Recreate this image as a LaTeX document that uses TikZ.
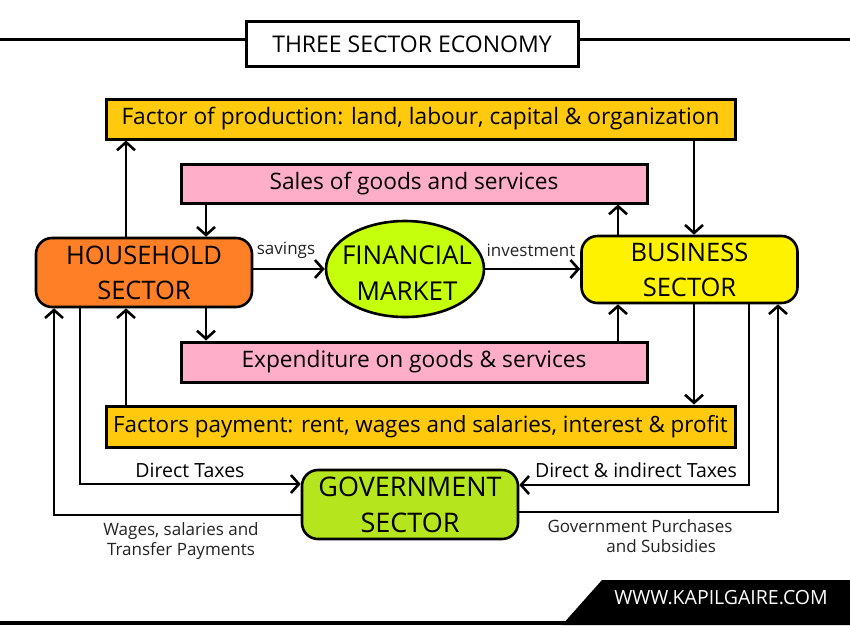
\documentclass[tikz,border=0pt]{standalone}
\usepackage{fontspec}
\setmainfont{Open Sans}
\usetikzlibrary{arrows.meta,shapes.geometric}
\definecolor{facfill}{HTML}{FFC90E}
\definecolor{pinkfill}{HTML}{FFAEC9}
\definecolor{housefill}{HTML}{FF7F27}
\definecolor{finfill}{HTML}{C5FF0C}
\definecolor{busfill}{HTML}{FFF200}
\definecolor{govfill}{HTML}{B5E61D}
\definecolor{lbl}{HTML}{222222}
\begin{document}
\begin{tikzpicture}[x=1pt,y=-1pt,
  line width=2.6pt,
  arr/.style={-{Straight Barb[length=8pt,width=18pt,line width=2.6pt]}},
  bar/.style={draw=black,line width=3pt,inner sep=0pt,align=center,font=\fontsize{22.7}{26}\selectfont},
  sector/.style={draw=black,line width=2.6pt,rounded corners=16pt,minimum width=216pt,inner sep=0pt,align=center,font=\fontsize{25.5}{35}\selectfont},
  lab/.style={text=lbl,inner sep=0pt,align=center,font=\fontsize{17}{20}\selectfont},
  tax/.style={text=black,inner sep=0pt,align=center,font=\fontsize{19.5}{22}\selectfont}
]
\useasboundingbox (0,0) rectangle (850,625);
% title
\draw[line width=3pt] (0,39) -- (850,39);
\node[bar,fill=white,minimum width=332pt,minimum height=45pt,font=\fontsize{23}{26}\selectfont] (title) at (412,44) {THREE SECTOR ECONOMY};
% boxes
\node[bar,fill=facfill,minimum width=629pt,minimum height=40pt] (factor) at (420.5,119) {Factor of production: land, labour, capital \& organization};
\node[bar,fill=pinkfill,minimum width=466pt,minimum height=39pt] (sales) at (414,183.5) {Sales of goods and services};
\node[bar,fill=pinkfill,minimum width=466pt,minimum height=40pt] (expend) at (414,362) {Expenditure on goods \& services};
\node[bar,fill=facfill,minimum width=629pt,minimum height=41pt,font=\fontsize{22.4}{26}\selectfont] (fpay) at (420.5,426.5) {Factors payment: rent, wages and salaries, interest \& profit};
\node[sector,fill=housefill,minimum height=69pt] (house) at (144,272.5) {HOUSEHOLD\\SECTOR};
\node[sector,fill=busfill,minimum height=67pt] (bus) at (689.5,269.5) {BUSINESS\\SECTOR};
\node[sector,fill=govfill,minimum height=69pt,font=\fontsize{27}{36}\selectfont] (gov) at (410,504.5) {GOVERNMENT\\SECTOR};
\node[ellipse,draw=black,line width=2.6pt,fill=finfill,minimum width=158pt,minimum height=96pt,inner sep=0pt] (fin) at (405,269) {};
\node[inner sep=0pt,align=center,font=\fontsize{26}{36}\selectfont] (fintext) at (407,273) {FINANCIAL\\MARKET};
% x / y guides
\coordinate (xa) at (126,0);
\coordinate (xb) at (206,0);
\coordinate (xc) at (618,0);
\coordinate (xd) at (694,0);
\coordinate (xe) at (80,0);
\coordinate (xf) at (54,0);
\coordinate (xg) at (749,0);
\coordinate (xh) at (778,0);
\coordinate (ya) at (0,484);
\coordinate (yb) at (0,515);
\coordinate (yc) at (0,485);
\coordinate (yd) at (0,512);
% arrows
\draw[arr] (house.north -| xa) -- (factor.south -| xa);
\draw[arr] (sales.south -| xb) -- (house.north -| xb);
\draw[arr] (factor.south -| xd) -- (bus.north -| xd);
\draw[arr] (bus.north -| xc) -- (sales.south -| xc);
\draw[arr] (house.south -| xb) -- (expend.north -| xb);
\draw[arr] (expend.north -| xc) -- (bus.south -| xc);
\draw[arr] (fpay.north -| xa) -- (house.south -| xa);
\draw[arr] (bus.south -| xd) -- (fpay.north -| xd);
\draw[arr] (house.south -| xe) |- (gov.west |- ya);
\draw[arr] (gov.west |- yb) -| (house.south -| xf);
\draw[arr] (bus.south -| xg) |- (gov.east |- yc);
\draw[arr] (gov.east |- yd) -| (bus.south -| xh);
\draw[arr] (house.east |- fin.west) -- (fin.west);
\draw[arr] (fin.east) -- (bus.west |- fin.east);
% labels
\node[lab] (lsav) at (286,250) {savings};
\node[lab] (linv) at (531,250) {investment};
\node[tax] (ldt) at (190,470) {Direct Taxes};
\node[tax] (ldit) at (636,470) {Direct \& indirect Taxes};
\node[lab] (lwag) at (181,541) {Wages, salaries and\\Transfer Payments};
\node[lab] (lgp) at (640,536) {Government Purchases\\\hspace*{2.5em}and Subsidies};
% footer
\fill[black] (562,625) -- (602,580) -- (850,580) -- (850,625) -- cycle;
\draw[line width=4pt] (0,623) -- (850,623);
\node[text=white,inner sep=0pt,font=\fontsize{19.5}{22}\selectfont] (web) at (721,598) {WWW.KAPILGAIRE.COM};
\end{tikzpicture}
\end{document}
